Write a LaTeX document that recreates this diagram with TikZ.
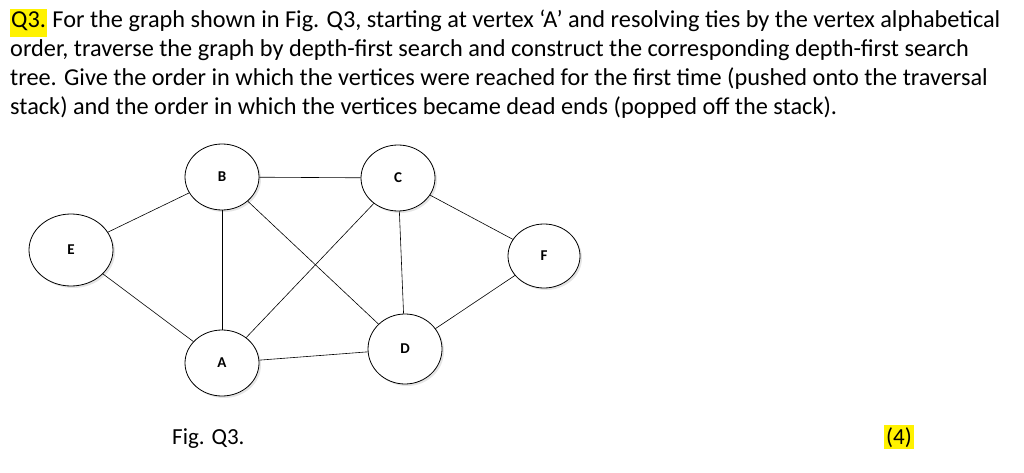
\documentclass[tikz,border=0pt]{standalone}
\usepackage{fontspec}
\setmainfont{Carlito}
\usetikzlibrary{shapes.geometric,shadows}
\newcommand{\vlab}[1]{\fontsize{15}{16}\selectfont\bfseries #1}
\begin{document}
\begin{tikzpicture}[x=1pt,y=-1pt,
  vtx/.style={ellipse,draw,thick,fill=white,inner sep=0pt,
    drop shadow={shadow xshift=2pt,shadow yshift=-2pt,fill=gray!40}},
  txt/.style={anchor=base west,inner sep=0pt,font=\fontsize{24.3}{26}\selectfont},
  edge/.style={semithick}]
\useasboundingbox (0,0) rectangle (1024,473);
\node[txt] (l1) at (10,28) {{\fboxsep=1pt\colorbox{yellow}{\strut Q3.}} For the graph shown in Fig. Q3, starting at vertex ‘A’ and resolving ties by the vertex alphabetical};
\node[txt] (l2) at (10,57) {order, traverse the graph by depth-first search and construct the corresponding depth-first search};
\node[txt] (l3) at (10,86) {tree. Give the order in which the vertices were reached for the first time (pushed onto the traversal};
\node[txt] (l4) at (10,115) {stack) and the order in which the vertices became dead ends (popped off the stack).};
\node[vtx,minimum width=74pt,minimum height=66pt] (B) at (222,177) {\vlab{B}};
\node[vtx,minimum width=74pt,minimum height=66pt] (C) at (398,178) {\vlab{C}};
\node[vtx,minimum width=84pt,minimum height=72pt] (E) at (71,250) {\vlab{E}};
\node[vtx,minimum width=72pt,minimum height=64pt] (F) at (544,256) {\vlab{F}};
\node[vtx,minimum width=74pt,minimum height=66pt] (A) at (222,363) {\vlab{A}};
\node[vtx,minimum width=74pt,minimum height=70pt] (D) at (405,349) {\vlab{D}};
\draw[edge] (E) -- (B);
\draw[edge] (E) -- (A);
\draw[edge] (B) -- (C);
\draw[edge] (B) -- (A);
\draw[edge] (B) -- (D);
\draw[edge] (C) -- (A);
\draw[edge] (C) -- (D);
\draw[edge] (C) -- (F);
\draw[edge] (D) -- (F);
\draw[edge] (A) -- (D);
\node[txt,font=\fontsize{23}{24}\selectfont] (fig) at (172,444) {Fig. Q3.};
\node[txt,font=\fontsize{23}{24}\selectfont,fill=yellow,inner sep=2pt] (mk) at (884,444) {(4)};
\end{tikzpicture}
\end{document}
